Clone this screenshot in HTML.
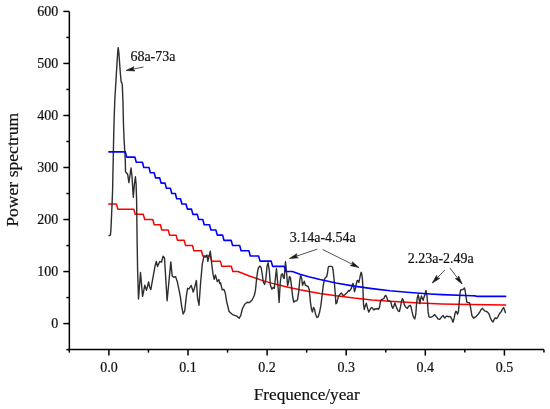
<!DOCTYPE html>
<html><head><meta charset="utf-8"><title>Power spectrum</title>
<style>html,body{margin:0;padding:0;background:#fff;}svg{display:block;}</style>
</head><body>
<svg width="550" height="409" viewBox="0 0 550 409">
<rect width="550" height="409" fill="#fff"/>
<g fill="none" stroke-linejoin="round" stroke-linecap="round">
<path d="M108.70,203.93 L116.40,203.93 L117.80,209.13 L133.80,209.13 L135.20,214.34 L143.30,214.34 L144.70,219.54 L152.80,219.54 L154.20,224.74 L160.40,224.74 L161.80,229.95 L168.20,229.95 L169.60,235.15 L176.10,235.15 L177.50,240.35 L184.20,240.35 L185.60,245.56 L192.50,245.56 L193.90,250.76 L201.40,250.76 L202.80,255.96 L210.40,255.96 L211.80,261.16 L220.40,261.16 L221.80,266.37 L231.40,266.37 L232.80,271.57 L237.90,271.57 L250.00,276.20 L262.00,280.40 L275.00,284.10 L288.00,287.20 L300.00,289.80 L320.00,293.50 L336.00,295.80 L354.00,298.10 L372.00,299.90 L390.00,301.20 L407.00,302.20 L420.00,303.00 L442.00,303.90 L470.00,304.60 L505.60,305.00" stroke="#ff0000" stroke-width="1.5"/>
<path d="M109.10,235.70 L110.40,235.10 L110.90,230.00 L111.20,223.60 L111.70,212.00 L112.10,203.40 L112.60,190.00 L113.00,170.00 L113.50,145.00 L114.10,120.00 L114.80,100.00 L115.40,90.00 L116.30,75.00 L117.20,60.00 L117.80,51.00 L118.20,47.60 L118.80,52.00 L119.60,63.00 L120.40,74.00 L121.20,82.30 L121.80,82.60 L122.30,85.50 L122.90,100.00 L123.50,125.00 L124.10,140.00 L124.80,151.70 L125.30,160.60 L125.50,171.60 L126.60,173.00 L127.70,174.50 L128.90,182.60 L130.00,175.20 L131.00,167.90 L131.90,175.20 L133.30,197.30 L134.40,184.10 L135.40,176.70 L136.10,184.10 L136.60,200.00 L137.10,240.00 L137.60,270.00 L138.50,299.00 L140.50,272.50 L142.60,296.40 L144.80,285.30 L146.50,290.40 L148.60,281.90 L149.60,287.00 L150.80,289.60 L155.10,265.60 L156.30,261.40 L157.60,266.50 L159.70,261.40 L161.40,262.20 L163.10,256.20 L164.50,258.00 L167.10,300.70 L170.80,261.90 L172.20,275.90 L173.70,277.30 L175.60,276.60 L177.30,281.70 L180.30,296.40 L181.70,306.60 L183.20,314.00 L184.70,311.00 L186.40,295.60 L187.60,288.30 L189.00,288.80 L191.20,285.40 L193.20,292.00 L194.60,287.60 L196.40,280.50 L197.50,297.80 L199.00,305.20 L200.60,282.70 L202.30,263.90 L204.00,256.20 L205.70,257.10 L206.90,255.00 L207.90,261.40 L209.10,256.20 L210.30,251.10 L211.30,260.50 L213.00,274.20 L214.20,279.30 L215.40,275.00 L217.30,281.50 L218.90,279.60 L219.80,283.50 L220.60,282.80 L222.20,289.80 L223.80,289.40 L225.20,292.50 L226.60,301.30 L229.10,311.50 L232.50,314.60 L236.80,316.10 L239.20,318.20 L240.80,315.30 L242.30,309.00 L244.70,304.20 L247.10,302.30 L249.50,302.60 L251.90,300.20 L254.30,295.50 L255.40,290.70 L256.30,282.00 L257.40,272.50 L258.50,267.70 L259.80,266.10 L261.10,267.40 L262.20,274.00 L263.30,282.00 L264.60,284.40 L265.70,280.40 L267.10,266.00 L268.10,262.80 L269.30,270.30 L270.40,285.00 L271.90,289.20 L273.10,287.50 L274.30,288.30 L275.70,275.50 L276.50,268.70 L278.20,289.20 L279.10,302.50 L280.30,282.00 L281.30,274.50 L282.40,273.80 L283.40,277.50 L284.20,278.50 L285.50,261.70 L286.80,275.20 L287.60,285.60 L288.50,282.50 L289.50,276.40 L290.40,277.60 L291.30,284.40 L292.50,295.40 L293.70,302.10 L295.30,300.90 L296.60,300.80 L297.60,299.30 L298.70,291.90 L299.80,279.80 L300.70,275.50 L301.70,278.50 L302.50,285.20 L303.40,283.20 L304.30,281.20 L305.40,285.20 L306.80,285.90 L308.10,286.50 L309.20,289.20 L309.70,294.60 L310.50,302.70 L311.50,309.40 L312.40,312.10 L313.50,307.40 L314.60,309.40 L315.50,314.10 L316.90,317.50 L318.20,316.80 L319.60,312.10 L320.90,305.40 L322.20,294.60 L323.30,285.20 L324.30,279.80 L325.30,277.80 L326.70,276.60 L327.50,273.00 L328.20,267.50 L328.80,266.40 L331.80,266.40 L332.50,267.20 L333.20,271.00 L334.20,280.60 L335.30,294.30 L335.90,303.70 L336.80,302.90 L338.30,296.90 L340.00,294.30 L341.50,293.00 L342.60,294.90 L343.80,295.60 L345.10,294.50 L346.40,293.20 L347.50,292.20 L348.50,290.60 L349.40,291.10 L350.40,289.80 L351.30,288.50 L352.10,285.50 L353.00,283.40 L353.70,286.40 L354.50,291.90 L355.40,288.90 L356.20,284.20 L357.10,280.80 L357.90,280.40 L358.80,282.50 L359.70,278.70 L360.50,274.40 L361.20,272.30 L361.80,274.40 L362.40,278.70 L362.90,287.20 L363.20,297.50 L363.50,304.70 L364.30,309.50 L365.10,306.20 L366.30,303.20 L367.40,307.60 L368.70,312.10 L369.90,309.90 L371.00,308.00 L371.90,307.50 L372.90,308.80 L374.00,309.90 L375.10,308.80 L376.20,309.10 L377.30,308.40 L378.40,309.30 L379.50,307.30 L380.00,304.00 L380.60,301.00 L381.20,299.80 L382.60,299.10 L383.90,298.60 L384.90,296.10 L385.90,295.40 L386.80,297.60 L387.80,300.50 L389.30,301.00 L390.80,302.00 L391.90,306.40 L392.90,308.30 L393.90,305.90 L394.90,303.00 L395.60,304.90 L396.60,307.90 L398.10,310.80 L399.40,311.50 L400.50,306.90 L401.50,301.00 L402.50,298.60 L403.50,300.50 L404.20,304.40 L405.20,306.40 L406.40,307.90 L407.40,308.30 L408.50,306.40 L409.40,305.80 L410.30,305.30 L411.00,306.90 L412.10,311.90 L413.20,316.30 L414.70,319.00 L415.80,314.10 L416.50,304.20 L417.30,297.60 L418.20,294.80 L419.10,299.20 L419.80,303.60 L420.60,298.70 L421.50,295.90 L422.40,298.70 L423.10,300.30 L423.90,297.60 L425.00,294.80 L425.90,290.40 L426.80,294.30 L427.50,302.00 L428.10,311.90 L429.00,316.80 L430.30,317.40 L431.90,316.80 L433.40,315.70 L434.70,314.60 L436.40,316.70 L437.90,318.90 L439.50,319.40 L440.80,318.10 L442.20,316.10 L443.20,315.50 L444.10,317.30 L444.90,318.10 L445.90,316.70 L447.10,316.10 L448.30,316.70 L449.60,316.40 L450.50,316.70 L451.80,319.10 L453.00,322.20 L454.20,317.90 L455.10,313.00 L455.90,311.20 L456.70,312.00 L457.50,314.20 L458.40,311.80 L459.10,304.40 L460.00,293.40 L460.60,290.00 L462.00,289.80 L463.30,289.20 L464.50,287.90 L465.20,291.00 L466.10,297.10 L466.70,301.80 L467.90,302.60 L469.40,302.60 L470.20,305.40 L471.00,310.30 L472.00,315.80 L473.50,318.00 L474.80,317.50 L476.50,316.10 L478.10,314.20 L479.80,312.00 L481.40,309.20 L482.50,308.30 L483.60,309.80 L484.90,311.10 L486.40,311.40 L487.80,312.30 L489.10,314.20 L490.40,318.00 L491.90,320.80 L493.00,321.90 L494.10,319.70 L495.20,317.80 L496.60,318.60 L497.90,316.90 L499.20,314.20 L500.30,312.50 L501.40,311.40 L502.30,309.40 L503.60,307.60 L504.50,309.80 L505.40,312.50" stroke="#2e2e2e" stroke-width="1.4"/>
<path d="M108.90,151.90 L125.30,151.90 L126.70,157.10 L134.90,157.10 L136.30,162.31 L142.40,162.31 L143.80,167.51 L149.00,167.51 L150.40,172.71 L154.20,172.71 L155.60,177.92 L159.70,177.92 L161.10,183.12 L165.00,183.12 L166.40,188.32 L170.40,188.32 L171.80,193.53 L175.30,193.53 L176.70,198.73 L180.50,198.73 L181.90,203.93 L186.00,203.93 L187.40,209.13 L191.50,209.13 L192.90,214.34 L197.30,214.34 L198.70,219.54 L202.80,219.54 L204.20,224.74 L209.50,224.74 L210.90,229.95 L215.90,229.95 L217.30,235.15 L222.60,235.15 L224.00,240.35 L231.20,240.35 L232.60,245.56 L239.70,245.56 L241.10,250.76 L248.90,250.76 L250.30,255.96 L258.60,255.96 L260.00,261.16 L271.20,261.16 L272.60,266.37 L284.40,266.37 L285.80,271.57 L292.40,271.57 L300.00,274.30 L308.70,276.70 L320.00,279.50 L336.00,283.00 L354.00,286.10 L372.00,288.60 L390.00,290.70 L407.00,292.30 L420.00,293.30 L430.00,294.00 L442.00,294.60 L472.00,295.70 L475.50,295.90 L477.00,296.40 L505.60,296.40" stroke="#0000ff" stroke-width="1.6"/>
</g>
<g stroke="#000" stroke-width="1.5" fill="none">
<line x1="69.35" y1="11.42" x2="69.35" y2="350.35"/>
<line x1="68.60" y1="349.60" x2="543.90" y2="349.60"/>
<line x1="66.35" y1="349.62" x2="69.35" y2="349.62"/><line x1="63.35" y1="323.60" x2="69.35" y2="323.60"/><line x1="66.35" y1="297.59" x2="69.35" y2="297.59"/><line x1="63.35" y1="271.57" x2="69.35" y2="271.57"/><line x1="66.35" y1="245.56" x2="69.35" y2="245.56"/><line x1="63.35" y1="219.54" x2="69.35" y2="219.54"/><line x1="66.35" y1="193.53" x2="69.35" y2="193.53"/><line x1="63.35" y1="167.51" x2="69.35" y2="167.51"/><line x1="66.35" y1="141.50" x2="69.35" y2="141.50"/><line x1="63.35" y1="115.48" x2="69.35" y2="115.48"/><line x1="66.35" y1="89.47" x2="69.35" y2="89.47"/><line x1="63.35" y1="63.45" x2="69.35" y2="63.45"/><line x1="66.35" y1="37.44" x2="69.35" y2="37.44"/><line x1="63.35" y1="11.42" x2="69.35" y2="11.42"/><line x1="69.35" y1="349.60" x2="69.35" y2="352.60"/><line x1="108.90" y1="349.60" x2="108.90" y2="355.60"/><line x1="148.45" y1="349.60" x2="148.45" y2="352.60"/><line x1="188.00" y1="349.60" x2="188.00" y2="355.60"/><line x1="227.55" y1="349.60" x2="227.55" y2="352.60"/><line x1="267.10" y1="349.60" x2="267.10" y2="355.60"/><line x1="306.65" y1="349.60" x2="306.65" y2="352.60"/><line x1="346.20" y1="349.60" x2="346.20" y2="355.60"/><line x1="385.75" y1="349.60" x2="385.75" y2="352.60"/><line x1="425.30" y1="349.60" x2="425.30" y2="355.60"/><line x1="464.85" y1="349.60" x2="464.85" y2="352.60"/><line x1="504.40" y1="349.60" x2="504.40" y2="355.60"/><line x1="543.95" y1="349.60" x2="543.95" y2="352.60"/>
</g>
<g stroke="#333" stroke-width="0.85" fill="#111">
<line x1="143.50" y1="67.00" x2="132.47" y2="69.22"/><polygon points="126.10,70.50 134.02,66.77 132.96,69.12 134.85,70.88"/>
<line x1="317.30" y1="249.10" x2="295.66" y2="256.42"/><polygon points="289.50,258.50 296.88,253.79 296.13,256.26 298.22,257.77"/>
<line x1="322.60" y1="249.50" x2="353.08" y2="264.61"/><polygon points="358.90,267.50 350.35,265.61 352.63,264.39 352.22,261.84"/>
<line x1="444.90" y1="269.90" x2="436.81" y2="278.32"/><polygon points="432.30,283.00 436.68,275.42 437.15,277.95 439.71,278.33"/>
<line x1="449.80" y1="267.90" x2="458.15" y2="278.83"/><polygon points="462.10,284.00 455.27,278.52 457.85,278.44 458.61,275.97"/>
</g>
<g font-family="'Liberation Serif','Times New Roman',serif" font-size="14" fill="#111" stroke="#111" stroke-width="0.2">
<text x="58.3" y="328.30" text-anchor="end">0</text><text x="58.3" y="276.27" text-anchor="end">100</text><text x="58.3" y="224.24" text-anchor="end">200</text><text x="58.3" y="172.21" text-anchor="end">300</text><text x="58.3" y="120.18" text-anchor="end">400</text><text x="58.3" y="68.15" text-anchor="end">500</text><text x="58.3" y="16.12" text-anchor="end">600</text><text x="108.90" y="371.6" text-anchor="middle">0.0</text><text x="188.00" y="371.6" text-anchor="middle">0.1</text><text x="267.10" y="371.6" text-anchor="middle">0.2</text><text x="346.20" y="371.6" text-anchor="middle">0.3</text><text x="425.30" y="371.6" text-anchor="middle">0.4</text><text x="504.40" y="371.6" text-anchor="middle">0.5</text>
<text x="130.4" y="60.6">68a-73a</text>
<text x="289.7" y="242.1">3.14a-4.54a</text>
<text x="407.7" y="263">2.23a-2.49a</text>
<text x="306.7" y="400.3" text-anchor="middle" font-size="17.2">Frequence/year</text>
<text transform="translate(18.2,169.8) rotate(-90)" text-anchor="middle" font-size="17.6">Power spectrum</text>
</g>
</svg>
</body></html>
